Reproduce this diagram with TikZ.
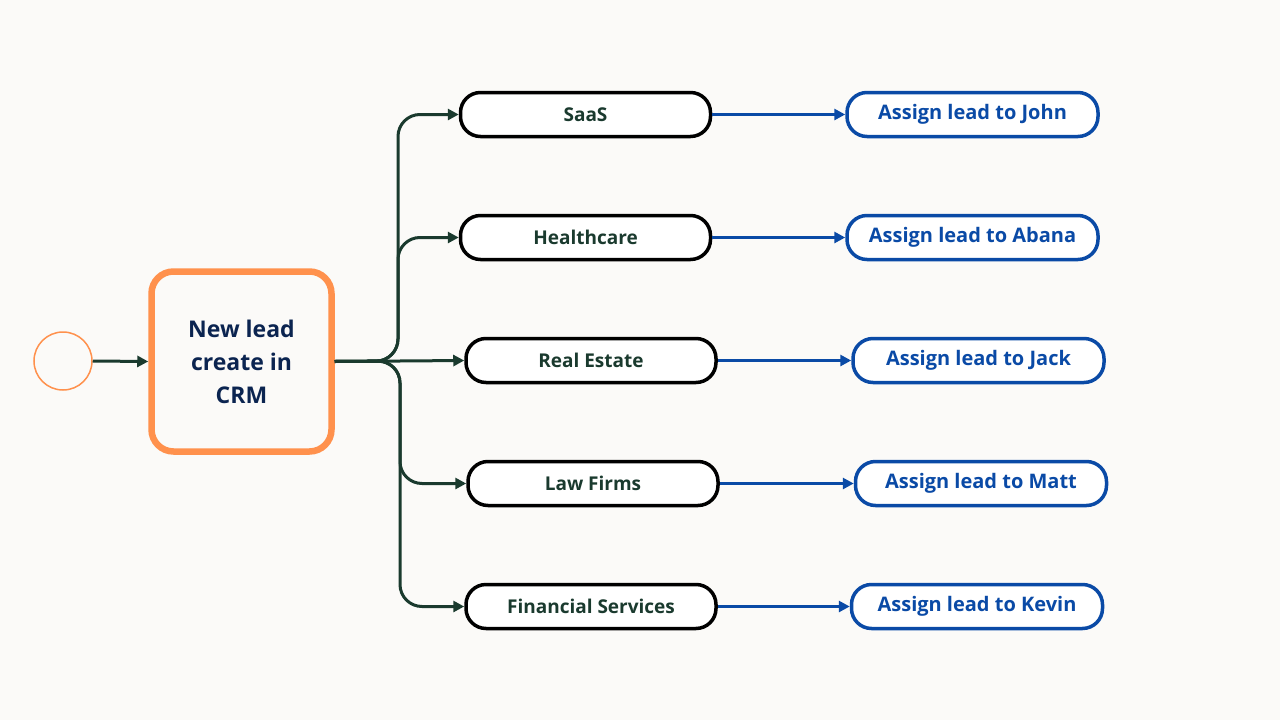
\documentclass[tikz,border=0pt]{standalone}
\usepackage{fontspec}
\setmainfont{Open Sans}
\usetikzlibrary{arrows.meta}
\definecolor{bg}{HTML}{FBFAF8}
\definecolor{dg}{HTML}{1A3A2E}
\definecolor{bl}{HTML}{0A4AA6}
\definecolor{org}{HTML}{FF914D}
\definecolor{navy}{HTML}{0B2450}
\tikzset{
 mid/.style={draw=black,line width=3.5pt,rounded corners=20pt,minimum width=250pt,minimum height=44pt,font=\bfseries\fontsize{19}{22}\selectfont,text=dg,fill=white},
 rgt/.style={draw=bl,line width=3.5pt,rounded corners=20pt,minimum width=251pt,minimum height=44pt,font=\bfseries\fontsize{20}{24}\selectfont,text=bl,fill=white},
 garr/.style={draw=dg,line width=3pt,-{Triangle[length=11pt,width=11pt]}},
 barr/.style={draw=bl,line width=3pt,-{Triangle[length=11pt,width=11pt]}},
}
\begin{document}
\begin{tikzpicture}[x=1pt,y=-1pt]
\fill[bg] (0,0) rectangle (1280,720);
\useasboundingbox (0,0) rectangle (1280,720);
\node[circle,draw=org,line width=1.5pt,minimum size=58pt,inner sep=0] (start) at (63,361) {};
\node[draw=org,line width=6.5pt,rounded corners=22pt,minimum width=180pt,minimum height=180pt,align=center,text=navy,font=\bfseries\fontsize{23}{33}\selectfont] (src) at (241.5,361.5) {New lead\\create in\\CRM};
\draw[garr] (start.east) -- (src.west);
\node[mid] (m1) at (585.5,114.5) {SaaS};
\node[mid] (m2) at (585.5,237.5) {Healthcare};
\node[mid] (m3) at (591,360.5) {Real Estate};
\node[mid] (m4) at (593,483.5) {Law Firms};
\node[mid] (m5) at (591,606.5) {Financial Services};
\node[rgt] (r1) at (972.5,114.5) {Assign lead to John};
\node[rgt] (r2) at (972.5,237.5) {Assign lead to Abana};
\node[rgt] (r3) at (978.5,360.5) {Assign lead to Jack};
\node[rgt] (r4) at (981,483.5) {Assign lead to Matt};
\node[rgt] (r5) at (977,606.5) {Assign lead to Kevin};
\draw[garr,rounded corners=22pt] (src.east) -- (398,361) -- (398,114.5) -- (m1.west);
\draw[garr,rounded corners=22pt] (src.east) -- (398,361) -- (398,237.5) -- (m2.west);
\draw[garr] (src.east) -- (m3.west);
\draw[garr,rounded corners=22pt] (src.east) -- (400,361) -- (400,483.5) -- (m4.west);
\draw[garr,rounded corners=22pt] (src.east) -- (400,361) -- (400,606.5) -- (m5.west);
\foreach \i in {1,...,5}{\draw[barr] (m\i.east) -- (r\i.west);}
\end{tikzpicture}
\end{document}
